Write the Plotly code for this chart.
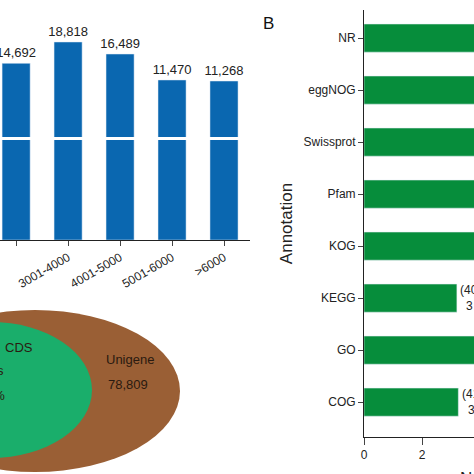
import plotly.graph_objects as go

# panel A: unigene length distribution
len_bins = ["2001-3000", "3001-4000", "4001-5000", "5001-6000", ">6000"]
len_counts = [14692, 18818, 16489, 11470, 11268]
len_labels = ["14,692", "18,818", "16,489", "11,470", "11,268"]

# panel B: annotation counts (x10^4)
db_names = ["COG", "GO", "KEGG", "KOG", "Pfam", "Swissprot", "eggNOG", "NR"]
db_counts = [3.25, 4.1, 3.2, 4.4, 4.9, 5.3, 6.5, 7.2]

W = H = 474
def px(x): return x / W
def py(y): return 1 - y / H

blue = "#0A67B0"
green = "#068D3B"
pos = list(range(len(len_bins)))

fig = go.Figure()
fig.add_trace(go.Bar(x=pos, y=len_counts, marker_color=blue, width=0.54,
                     xaxis="x", yaxis="y", hoverinfo="skip"))
fig.add_trace(go.Bar(x=pos, y=len_counts, marker_color=blue, width=0.54,
                     text=len_labels, textposition="outside", cliponaxis=False,
                     constraintext="none", textfont=dict(size=13, color="#222"),
                     xaxis="x", yaxis="y2"))
fig.add_trace(go.Bar(y=list(range(len(db_names))), x=db_counts, orientation="h",
                     marker_color=green, width=0.54, xaxis="x3", yaxis="y3"))

for name, val, p1, p2 in [("KEGG", 3.2, "(40.", "3"), ("COG", 3.25, "(41.", "3")]:
    i = db_names.index(name)
    fig.add_annotation(x=val + 0.05, y=i + 0.15, text=p1, xref="x3", yref="y3",
                       xanchor="left", showarrow=False, font=dict(size=12, color="#222"))
    fig.add_annotation(x=val + 0.25, y=i - 0.15, text=p2, xref="x3", yref="y3",
                       xanchor="left", showarrow=False, font=dict(size=12, color="#222"))

# panel C: venn ellipses
fig.add_shape(type="circle", xref="paper", yref="paper", x0=px(-110), x1=px(180),
              y0=py(472), y1=py(310), fillcolor="#9A5F35", line_width=0, layer="below")
fig.add_shape(type="circle", xref="paper", yref="paper", x0=px(-110), x1=px(92),
              y0=py(458), y1=py(322), fillcolor="#1AAE6B", line_width=0, layer="below")
for t, x, y, anc in [("CDS", 3, 357, "left"), ("Unigene", 104, 369, "left"),
                     ("78,809", 106, 394, "left"), ("genes", 6, 380, "right"),
                     ("52.4%", 7, 405, "right")]:
    fig.add_annotation(x=px(x), y=py(y), xref="paper", yref="paper", text=t, xanchor=anc,
                       showarrow=False, font=dict(size=13, color="#2a1a10"))

fig.add_annotation(x=px(261), y=py(12), xref="paper", yref="paper", text="B",
                   xanchor="left", showarrow=False, font=dict(size=17, color="#111"))
# x-axis title of panel B, mostly cut off at the bottom edge as in the source
fig.add_annotation(x=px(458), y=py(467), xref="paper", yref="paper", yanchor="top",
                   text="Number of Unigenes (×10⁴)", xanchor="left", showarrow=False,
                   font=dict(size=17, color="#222"))

fig.update_layout(
    width=W, height=H, margin=dict(l=0, r=0, t=0, b=0), showlegend=False,
    plot_bgcolor="white", paper_bgcolor="white",
    font=dict(family="Liberation Sans, Arial", color="#222"),
    xaxis=dict(domain=[0, px(250)], range=[-0.31, 4.5], tickvals=pos, ticktext=len_bins,
               tickangle=-30, ticks="outside", ticklen=5, showline=True, linecolor="#222",
               tickfont=dict(size=12), showgrid=False, anchor="y", automargin=False),
    yaxis=dict(domain=[py(240), py(140)], range=[0, 400], visible=False, automargin=False),
    yaxis2=dict(domain=[py(137), 1], range=[440, 26940], visible=False, anchor="x",
                automargin=False),
    xaxis3=dict(domain=[px(364), 1], range=[0, 3.79], dtick=2, ticks="outside", ticklen=7,
                showline=True, linecolor="#222", showgrid=False, zeroline=False,
                tickfont=dict(size=12), anchor="y3", automargin=False),
    yaxis3=dict(domain=[py(437), py(10)], range=[-0.67, 7.54],
                tickvals=list(range(len(db_names))), ticktext=db_names,
                ticks="outside", ticklen=5, showline=True, linecolor="#222",
                showgrid=False, zeroline=False, tickfont=dict(size=12), anchor="x3",
                automargin=False,
                title=dict(text="Annotation", font=dict(size=17), standoff=6)),
)

fig.write_html("out.html", config={"displayModeBar": False},
               post_script="document.body.style.margin='0';")
